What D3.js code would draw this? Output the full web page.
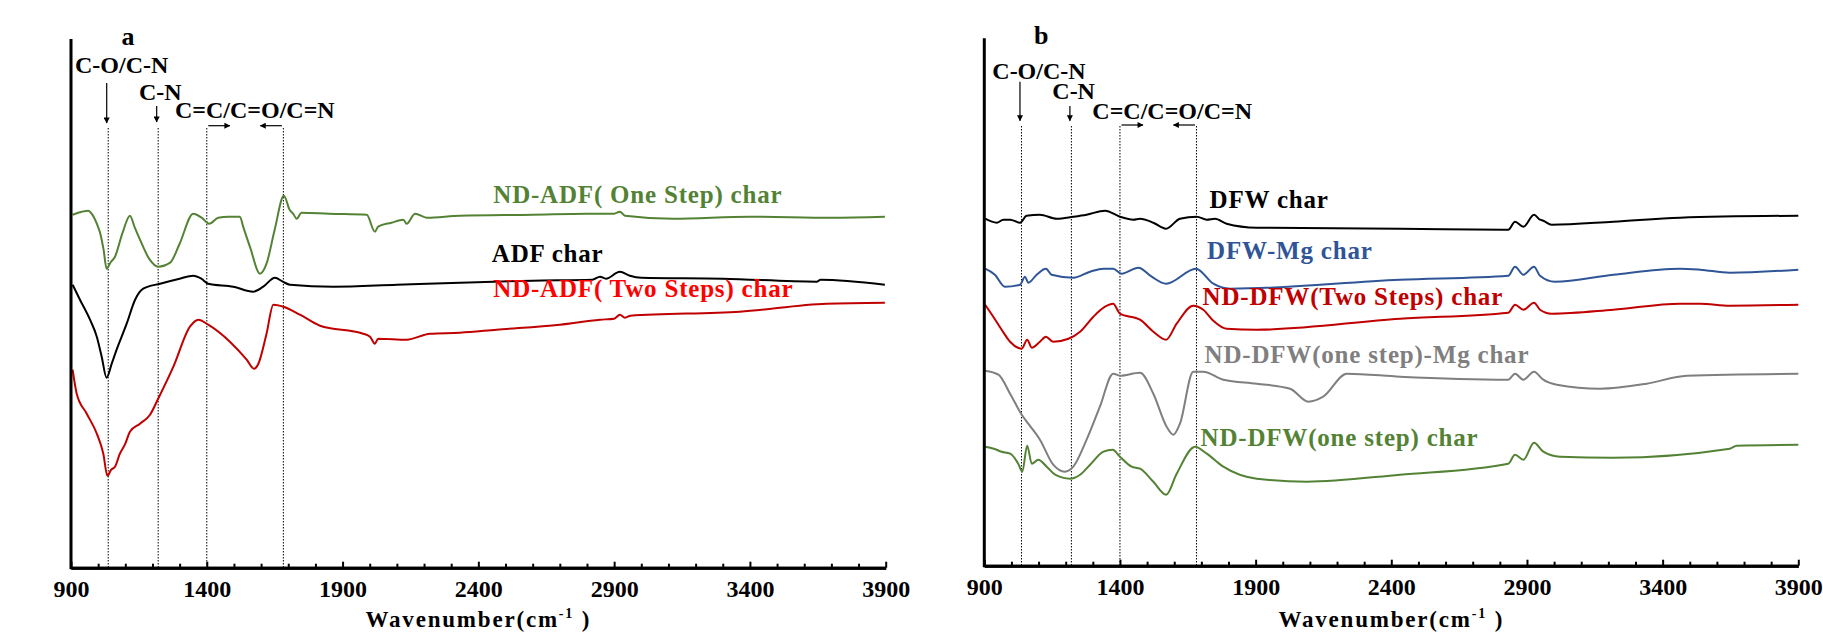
<!DOCTYPE html>
<html>
<head>
  <meta charset="utf-8">
  <title>FTIR spectra of chars</title>
  <style>
    body { margin: 0; background: #fff; }
    svg text { font-family: "Liberation Serif", "Times New Roman", serif; font-weight: bold; }
    .x-axis .domain { stroke: #000; stroke-width: 3; }
    .x-axis .tick line { stroke: #000; stroke-width: 2; }
    .x-axis .tick text { font-family: "Liberation Serif", serif; font-size: 24px; fill: #000; }
    .y-line { stroke: #000; stroke-width: 3; }
    .guide { stroke: #000; stroke-width: 1; stroke-dasharray: 1.5,1.5; }
    .arrow { stroke: #000; stroke-width: 1.2; }
    .spectrum { fill: none; stroke-width: 2; stroke-linejoin: round; }
    .series-label { font-size: 25px; letter-spacing: 0.8px; }
    .note { font-size: 24px; fill: #000; }
  </style>
  <script src="https://d3js.org/d3.v7.min.js"></script>
</head>
<body>
<script>
  // ---- data (wavenumber cm-1, transmittance in arbitrary offset units) ----
  var majorTicks = [900, 1400, 1900, 2400, 2900, 3400, 3900];
  var bandPositions = [1037, 1221, 1400, 1682];
  var bandNotes = ["C-O/C-N", "C-N", "C=C/C=O/C=N"];

  // panel a
  var adfOneStep = [[906,353],[940,356],[964,357],[976,354],[995,344],[1007,335],[1020,318],[1031,299],[1045,305],[1062,311],[1090,335],[1117,352],[1135,340],[1154,328],[1190,308],[1221,301],[1265,305],[1300,324],[1350,354],[1381,350],[1409,344],[1442,350],[1480,351],[1522,351],[1534,341],[1560,320],[1596,294],[1620,304],[1650,338],[1684,372],[1705,358],[1718,354],[1731,349],[1749,355],[1850,354],[1989,353],[2019,336],[2031,341],[2080,345],[2124,348],[2136,344],[2167,354],[2210,350],[2332,352],[2600,353],[2800,354],[2900,354],[2921,356],[2940,352],[3116,349],[3400,351],[3700,350],[3897,351]];
  var adf = [[906,283],[933,268],[970,248],[995,231],[1013,211],[1031,190],[1050,204],[1068,218],[1105,244],[1136,268],[1166,279],[1228,284],[1300,289],[1350,292],[1380,289],[1405,284],[1498,281],[1571,276],[1608,281],[1651,290],[1680,286],[1706,283],[1866,281],[2100,283],[2332,285],[2600,287],[2820,288],[2848,291],[2870,289],[2921,296],[2958,292],[3000,290],[3300,289],[3646,286],[3660,288],[3897,283]];
  var adfTwoSteps = [[906,198],[921,174],[958,154],[995,134],[1019,114],[1034,92],[1048,98],[1062,101],[1080,114],[1100,124],[1117,136],[1154,144],[1191,153],[1221,169],[1277,201],[1338,241],[1369,248],[1405,243],[1485,226],[1547,208],[1574,199],[1590,204],[1620,234],[1645,263],[1682,261],[1743,253],[1817,242],[1976,234],[2001,231],[2019,224],[2031,229],[2136,228],[2222,234],[2332,235],[2467,238],[2700,243],[2848,248],[2900,249],[2921,253],[2940,250],[2960,252],[3363,256],[3682,264],[3897,265]];

  // panel b
  var dfw = [[903,347],[946,343],[970,346],[995,346],[1032,343],[1056,350],[1105,351],[1167,347],[1228,349],[1277,351],[1345,355],[1400,349],[1449,346],[1474,347],[1523,343],[1570,337],[1621,347],[1683,349],[1720,346],[1750,347],[1793,342],[1904,338],[2432,337],[2831,336],[2856,344],[2887,339],[2926,351],[2948,346],[2960,345],[2991,341],[3218,344],[3464,348],[3900,350]];
  var dfwMg = [[903,297],[939,291],[976,279],[1032,281],[1050,289],[1062,283],[1093,291],[1127,297],[1148,291],[1228,288],[1290,294],[1339,297],[1375,297],[1406,292],[1468,298],[1517,289],[1570,282],[1680,297],[1744,282],[1806,277],[2432,286],[2831,290],[2856,299],[2887,291],[2926,299],[2948,290],[3003,284],[3218,291],[3464,297],[3538,296],[3648,293],[3900,296]];
  var dfwTwoSteps = [[903,261],[933,249],[964,236],[995,224],[1038,217],[1058,226],[1075,218],[1105,224],[1127,229],[1154,224],[1210,227],[1253,234],[1302,249],[1345,259],[1375,262],[1400,252],[1474,246],[1523,234],[1570,226],[1609,242],[1670,260],[1707,256],[1744,245],[1793,237],[1904,236],[2432,247],[2831,253],[2856,261],[2887,256],[2926,263],[2948,256],[2991,252],[3218,256],[3464,262],[3538,262],[3648,260],[3900,261]];
  var dfwOneStepMg = [[903,195],[952,191],[995,172],[1038,151],[1062,142],[1105,126],[1154,101],[1197,94],[1228,99],[1277,126],[1326,159],[1375,192],[1400,190],[1474,193],[1523,172],[1572,139],[1597,131],[1621,142],[1670,194],[1707,194],[1781,186],[1904,182],[2027,177],[2094,164],[2149,169],[2236,192],[2432,189],[2831,186],[2856,192],[2887,186],[2926,194],[2960,186],[3010,181],[3169,177],[3341,182],[3489,190],[3900,192]];
  var dfwOneStep = [[903,119],[935,117],[964,114],[995,112],[1025,102],[1040,94],[1058,120],[1075,102],[1099,106],[1130,99],[1161,91],[1216,87],[1253,91],[1290,101],[1339,114],[1373,116],[1400,109],[1443,99],[1474,97],[1523,84],[1570,71],[1609,92],[1677,119],[1720,112],[1781,99],[1904,87],[2088,84],[2432,91],[2831,102],[2856,111],[2887,106],[2926,123],[2960,114],[3022,109],[3218,108],[3648,117],[3673,120],[3900,121]];

  var panels = [
    {
      letter: "a", x0: 71, x1: 885.7, yTop: 39, yBottom: 567.7,
      noteX: [4, 68, 104], noteY: [73, 100, 117.7],
      arrowV: [[83, 123], [106, 122]], arrowH: 125.7, guideTop: 128,
      labelWn: 2455,
      series: [
        {name: "ND-ADF( One Step) char", data: adfOneStep, color: "#548235", labelColor: "#548235", labelY: 203.3},
        {name: "ADF char", data: adf, color: "#000000", labelColor: "#000000", labelY: 261.7, dx: -1.5},
        {name: "ND-ADF( Two Steps) char", data: adfTwoSteps, color: "#C00000", labelColor: "#FF0000", labelY: 296.7}
      ]
    },
    {
      letter: "b", x0: 984.3, x1: 1798.3, yTop: 38.3, yBottom: 565.7,
      noteX: [8, 68, 108], noteY: [79, 99, 119.3],
      arrowV: [[81.7, 120.7], [106, 120.7]], arrowH: 125, guideTop: 126,
      labelWn: 1712,
      series: [
        {name: "DFW char", data: dfw, color: "#000000", labelColor: "#000000", labelY: 208.3, dx: 5},
        {name: "DFW-Mg char", data: dfwMg, color: "#2F5597", labelColor: "#2F5597", labelY: 259.3, dx: 2.5},
        {name: "ND-DFW(Two Steps) char", data: dfwTwoSteps, color: "#C00000", labelColor: "#C00000", labelY: 305, dx: -2},
        {name: "ND-DFW(one step)-Mg char", data: dfwOneStepMg, color: "#7F7F7F", labelColor: "#7F7F7F", labelY: 363.3},
        {name: "ND-DFW(one step) char", data: dfwOneStep, color: "#548235", labelColor: "#548235", labelY: 445.7, dx: -4}
      ]
    }
  ];

  var width = 1823, height = 633;
  var svg = d3.select("body").append("svg")
    .attr("width", width)
    .attr("height", height);

  var defs = svg.append("defs");
  defs.append("marker")
    .attr("id", "head")
    .attr("viewBox", "0 0 10 10")
    .attr("refX", 9).attr("refY", 5)
    .attr("markerWidth", 7).attr("markerHeight", 6)
    .attr("markerUnits", "userSpaceOnUse")
    .attr("orient", "auto")
    .append("path")
    .attr("d", "M0,0 L10,5 L0,10 z")
    .attr("fill", "#000");

  panels.forEach(function(p) {
    var x = d3.scaleLinear().domain([900, 3900]).range([p.x0, p.x1]);
    var y = d3.scaleLinear().domain([0, 528]).range([p.yBottom, p.yBottom - 528]);
    var g = svg.append("g");

    // dotted guides at band positions
    g.selectAll(".guide")
      .data(bandPositions)
      .enter().append("line")
      .attr("class", "guide")
      .attr("x1", d => x(d)).attr("x2", d => x(d))
      .attr("y1", p.guideTop).attr("y2", p.yBottom);

    // spectra
    var line = d3.line()
      .x(d => x(d[0]))
      .y(d => y(d[1]))
      .curve(d3.curveMonotoneX);

    g.selectAll(".spectrum")
      .data(p.series)
      .enter().append("path")
      .attr("class", "spectrum")
      .attr("stroke", d => d.color)
      .attr("d", d => line(d.data));

    g.selectAll(".series-label")
      .data(p.series)
      .enter().append("text")
      .attr("class", "series-label")
      .attr("x", d => x(p.labelWn) + (d.dx || 0))
      .attr("y", d => d.labelY)
      .attr("fill", d => d.labelColor)
      .text(d => d.name);

    // x axis: minor + major ticks pointing inward
    var minor = d3.range(900, 3901, 100).filter(v => majorTicks.indexOf(v) < 0);
    g.append("g")
      .attr("class", "x-axis")
      .attr("transform", "translate(0," + p.yBottom + ")")
      .call(d3.axisBottom(x).tickValues(minor).tickSizeInner(-4).tickSizeOuter(0).tickFormat(""));
    g.append("g")
      .attr("class", "x-axis")
      .attr("transform", "translate(0," + p.yBottom + ")")
      .call(d3.axisBottom(x).tickValues(majorTicks).tickSizeInner(-6).tickSizeOuter(0)
        .tickPadding(12).tickFormat(d3.format("d")));

    // y axis (no ticks)
    g.append("line")
      .attr("class", "y-line")
      .attr("x1", p.x0).attr("x2", p.x0)
      .attr("y1", p.yTop).attr("y2", p.yBottom + 1.5);

    // axis title
    var title = g.append("text")
      .attr("x", (p.x0 + p.x1) / 2)
      .attr("y", 627)
      .attr("text-anchor", "middle")
      .style("font-size", "23px")
      .style("letter-spacing", "1.8px");
    title.append("tspan").text("Wavenumber(cm");
    title.append("tspan").attr("dy", -9).style("font-size", "14px").text("-1");
    title.append("tspan").attr("dy", 9).text(" )");

    // panel letter
    g.append("text")
      .attr("x", p.x0 + 57)
      .attr("y", p.yTop + 6)
      .attr("text-anchor", "middle")
      .style("font-size", "26px")
      .text(p.letter);

    // band notes
    bandNotes.forEach(function(t, i) {
      g.append("text")
        .attr("class", "note")
        .attr("x", p.x0 + p.noteX[i])
        .attr("y", p.noteY[i])
        .text(t);
    });

    // downward arrows
    p.arrowV.forEach(function(a, i) {
      g.append("line")
        .attr("class", "arrow")
        .attr("x1", x(bandPositions[i]) - 1.5).attr("x2", x(bandPositions[i]) - 1.5)
        .attr("y1", a[0]).attr("y2", a[1])
        .attr("marker-end", "url(#head)");
    });

    // shift arrows
    g.append("line")
      .attr("class", "arrow")
      .attr("x1", x(bandPositions[2]) + 1.5).attr("x2", x(bandPositions[2]) + 23)
      .attr("y1", p.arrowH).attr("y2", p.arrowH)
      .attr("marker-end", "url(#head)");
    g.append("line")
      .attr("class", "arrow")
      .attr("x1", x(bandPositions[3]) - 1.5).attr("x2", x(bandPositions[3]) - 23)
      .attr("y1", p.arrowH).attr("y2", p.arrowH)
      .attr("marker-end", "url(#head)");
  });
</script>
</body>
</html>
